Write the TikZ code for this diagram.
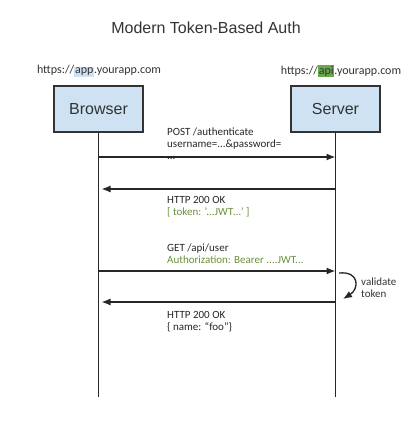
\documentclass[tikz,border=0pt]{standalone}
\usepackage{fontspec}
\setmainfont{Carlito}
\newfontfamily\headfont{Liberation Sans}
\usetikzlibrary{arrows.meta}

\definecolor{boxblue}{HTML}{CFE2F3}
\definecolor{apigreen}{HTML}{6AA84F}
\definecolor{codegreen}{HTML}{6B8E3A}
\definecolor{inkgray}{HTML}{333333}
\newcommand{\urlmark}[2]{{\setlength{\fboxsep}{0.8pt}\colorbox{#1}{#2}}}

\begin{document}
\begin{tikzpicture}[x=1pt, y=-1pt, actor/.style={rectangle,
            draw=inkgray, line width=1.4pt, fill=boxblue, minimum
            width=89pt, minimum height=46pt,
            font=\headfont\fontsize{16}{19}\selectfont, text=inkgray},
        url/.style={font=\fontsize{12}{14}\selectfont, text=inkgray},
        msg/.style={anchor=north west, align=left, inner sep=0pt,
            font=\fontsize{11}{11.8}\selectfont, text=black!85},
        life/.style={line width=1.6pt, draw=black!85},
        call/.style={line width=1.3pt, draw=black!85,
            -{Latex[length=9pt, width=7pt]}}, ]

        \useasboundingbox (0,0) rectangle (419,423);

        \node[font=\headfont\fontsize{16}{19}\selectfont, text=inkgray]
        (title) at (206,28) {Modern Token-Based Auth};

        \node[url] (appurl) at (99,71)
        {https://\urlmark{boxblue}{app}.yourapp.com};
        \node[url] (apiurl) at (341,71)
        {https://\urlmark{apigreen}{api}.yourapp.com};

        \node[actor] (browser) at (98.5,109) {Browser};
        \node[actor] (server) at (335.5,109) {Server};

        \coordinate (browserend) at (98.5,397);
        \coordinate (serverend) at (335.5,397);
        \draw[life] (browser.south) -- (browserend);
        \draw[life] (server.south) -- (serverend);

        \coordinate (loginb) at (98.5,157);
        \coordinate (logins) at (335.5,157);
        \coordinate (tokens) at (335.5,189);
        \coordinate (tokenb) at (98.5,189);
        \coordinate (getb) at (98.5,271);
        \coordinate (gets) at (335.5,271);
        \coordinate (checktop) at (339,273);
        \coordinate (checkbot) at (343,299);
        \coordinate (datas) at (335.5,302);
        \coordinate (datab) at (98.5,302);

        \node[msg] (login) at (167,128) {POST /authenticate\\
            username=...\&password=\\...};
        \node[msg] (token) at (167,196) {HTTP 200 OK\\
            \textcolor{codegreen}{[ token: '...JWT…' ]}};
        \node[msg] (getuser) at (167,244) {GET /api/user\\
            \textcolor{codegreen}{Authorization: Bearer ....JWT...}};
        \node[msg] (userdata) at (167,311) {HTTP 200 OK\\
            \{ name: “foo”\}};
        \node[msg, anchor=west, text=inkgray] (validate) at (361,288)
        {validate\\token};

        \draw[call] (loginb) -- (logins);
        \draw[call, shorten >=3pt] (tokens) -- (tokenb);
        \draw[call] (getb) -- (gets);
        \draw[call] (checktop) .. controls (360,271) and (359,289) ..
        (checkbot);
        \draw[call, shorten >=3pt] (datas) -- (datab);
    \end{tikzpicture}
\end{document}
